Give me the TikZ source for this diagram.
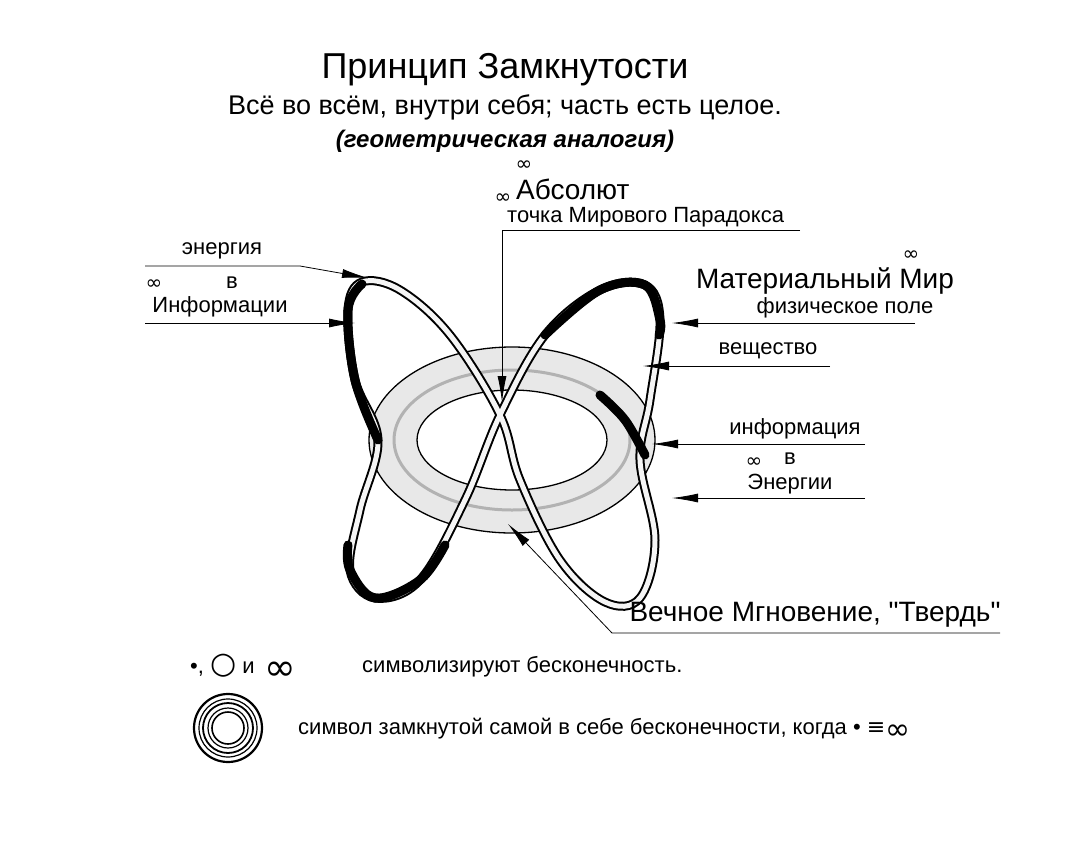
\documentclass[tikz,border=0pt]{standalone}
\usepackage{fontspec}
\setmainfont{Liberation Sans}[Ligatures=TeXOff]
\newfontfamily\symfont{DejaVu Sans}
\usetikzlibrary{arrows.meta}
\newcommand{\fs}[1]{\fontsize{#1}{#1}\selectfont}

\begin{document}
\begin{tikzpicture}[x=1pt,y=-1pt,
  lbl/.style={inner sep=0pt,font=\fs{22}},
  big/.style={inner sep=0pt,font=\fs{28}},
  inf/.style={inner sep=0pt,font=\fs{20}\symfont},
  ptr/.style={line width=0.8pt,-{Latex[length=26pt,width=9pt]}},
  tube/.style={line width=9pt,line cap=round},
  core/.style={line width=5pt,gray!8}]
  \useasboundingbox (0,0) rectangle (1080,868);
  % titles
  \node[inner sep=0,font=\fs{36}] (title) at (505,70) {Принцип Замкнутости};
  \node[inner sep=0,font=\fs{27}] (sub) at (505,107) {Всё во всём, внутри себя; часть есть целое.};
  \node[inner sep=0,font=\fs{24}\bfseries\itshape] (geo) at (505,141) {(геометрическая аналогия)};

  % torus
  \fill[gray!18,even odd rule] (512,440) ellipse [x radius=143,y radius=93]
                                (512,440) ellipse [x radius=95,y radius=50];
  \draw[line width=1.3pt] (512,440) ellipse [x radius=143,y radius=93];
  \draw[line width=1.3pt] (512,440) ellipse [x radius=95,y radius=50];
  \draw[gray!60,line width=3pt] (512,440) ellipse [x radius=118,y radius=70];

  % knot
  \def\knot{plot[smooth cycle,tension=0.6] coordinates {(500,415) (450,335) (400,290)
    (362,282) (348,310) (355,380) (378,440) (360,510) (350,570) (375,598) (420,580)
    (465,500) (500,415) (545,335) (600,290) (645,285) (660,320) (650,400) (640,460)
    (655,540) (640,598) (605,602) (560,560) (520,480)}}
  \draw[tube] \knot;
  \draw[core] \knot;
  \draw[tube] plot[smooth,tension=0.6] coordinates {(362,284) (348,310) (355,380) (378,440)};
  \draw[tube] plot[smooth,tension=0.6] coordinates {(545,335) (600,290) (645,285) (660,320) (659,335)};
  \draw[tube] plot[smooth,tension=0.6] coordinates {(348,545) (350,570) (375,598) (420,580) (445,545)};
  \draw[tube] plot[smooth,tension=0.6] coordinates {(600,395) (625,420) (645,455)};

  % top label
  \node[big,anchor=west] (abs) at (516,189) {Абсолют};
  \node[inf] (i1) at (524,166) {∞};
  \node[inf] (i2) at (503,199) {∞};
  \node[lbl,anchor=west] (pt) at (507,217) {точка Мирового Парадокса};
  \coordinate (c1) at (800,230);
  \coordinate (c2) at (502,230);
  \coordinate (c3) at (502,402);
  \draw[ptr] (c1) -- (c2) -- (c3);

  % left labels
  \node[lbl] (en) at (222,251) {энергия};
  \node[lbl] (v1) at (232,283) {в};
  \node[inf] (i3) at (154,285) {∞};
  \node[lbl] (inform) at (220,307) {Информации};
  \coordinate (l1) at (145,266);
  \coordinate (l2) at (300,266);
  \coordinate (l3) at (368,278);
  \draw[ptr] (l1) -- (l2) -- (l3);
  \coordinate (l4) at (145,323);
  \coordinate (l5) at (355,323);
  \draw[ptr] (l4) -- (l5);

  % right labels
  \node[big] (mm) at (825,281) {Материальный Мир};
  \node[inf] (i4) at (911,256) {∞};
  \node[lbl] (fp) at (845,308) {физическое поле};
  \coordinate (r1) at (915,323);
  \coordinate (r2) at (672,323);
  \draw[ptr] (r1) -- (r2);
  \node[lbl] (ve) at (768,351) {вещество};
  \coordinate (r3) at (830,366);
  \coordinate (r4) at (643,366);
  \draw[ptr] (r3) -- (r4);
  \node[lbl] (infm) at (795,429) {информация};
  \coordinate (r5) at (865,444);
  \coordinate (r6) at (652,444);
  \draw[ptr] (r5) -- (r6);
  \node[inf] (i5) at (754,463) {∞};
  \node[lbl] (v2) at (790,459) {в};
  \node[lbl] (eng) at (790,484) {Энергии};
  \coordinate (r7) at (865,498);
  \coordinate (r8) at (672,498);
  \draw[ptr] (r7) -- (r8);

  % bottom label
  \node[big] (vm) at (815,615) {Вечное Мгновение, "Твердь"};
  \coordinate (b1) at (1000,633);
  \coordinate (b2) at (612,633);
  \coordinate (b3) at (508,524);
  \draw[ptr] (b1) -- (b2) -- (b3);

  % legend
  \node[lbl,anchor=west] (sym) at (190,667) {•, {\fs{30}\symfont ○} и\, \raisebox{-7pt}{\fs{38}\symfont ∞}};
  \node[lbl,anchor=west] (symt) at (362,667) {символизируют бесконечность.};
  \foreach \r/\w in {34/2.2,29/1.2,25/1.8,20/1.2,16/1.6} {
    \draw[line width=\w pt] (228,728) circle (\r);
  }
  \node[lbl,anchor=west] (spt) at (298,729) {символ замкнутой самой в себе бесконечности, когда • {\symfont ≡}\raisebox{-5pt}{\fs{30}\symfont ∞}};
\end{tikzpicture}
\end{document}
